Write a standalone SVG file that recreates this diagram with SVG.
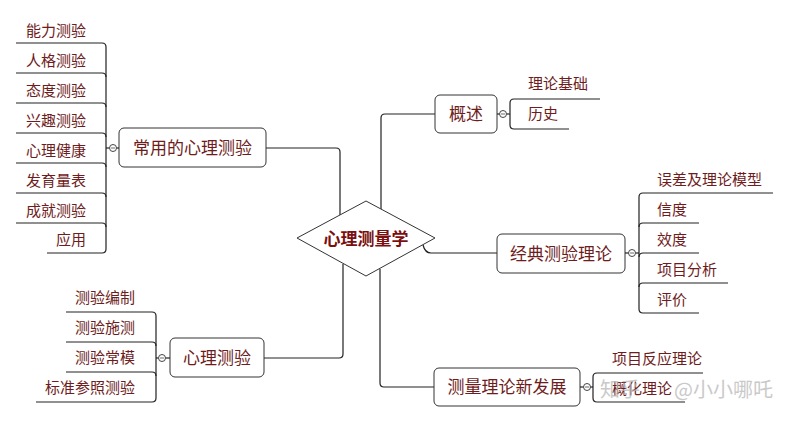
<svg xmlns="http://www.w3.org/2000/svg" width="790" height="423" viewBox="0 0 790 423">
<style>
text{font-family:"Noto Sans CJK SC","Noto Sans",sans-serif;fill:#6e1c1c;dominant-baseline:central}
.leaf{font-size:15px}
.node{font-size:17px;text-anchor:middle}
.box{fill:#fff;stroke:#333;stroke-width:1}
.ln{fill:none;stroke:#222;stroke-width:1.2}
.c{fill:#fff;stroke:#444;stroke-width:1}
.end{text-anchor:end}
</style>
<rect width="790" height="423" fill="#fff"/>
<g id="connectors">
<path class="ln" d="M266,148 H336 Q340,148 340,152 V216"/>
<path class="ln" d="M381,210 V118 Q381,114 385,114 H435"/>
<path class="ln" d="M423,245 Q425,253 431,253 H497"/>
<path class="ln" d="M264,358 H339 Q343,358 343,354 V264"/>
<path class="ln" d="M380,269 V383 Q380,387 384,387 H434"/>
</g>
<g id="root">
<polygon points="297,238 366,201 435,238 366,276" fill="#fff" stroke="#333" stroke-width="1"/>
<text x="366" y="237.5" style="font-size:17px;font-weight:bold;text-anchor:middle;fill:#7a0f0f">心理测量学</text>
</g>
<g id="node-common">
<rect class="box" x="119" y="128" width="147" height="39" rx="5"/>
<text class="node" x="192.5" y="146.5">常用的心理测验</text>
<line class="ln" x1="106" y1="148" x2="109.5" y2="148"/><line class="ln" x1="116.5" y1="148" x2="119" y2="148"/>
<circle class="c" cx="113" cy="148" r="3.5"/><line x1="111" y1="148" x2="115" y2="148" stroke="#444" stroke-width="0.8"/>
<path class="ln" d="M16,43 H102 Q106,43 106,47 V249 Q106,253 102,253 H47"/>
<path class="ln" d="M16,73 H102 Q106,73 106,77"/>
<path class="ln" d="M16,103 H102 Q106,103 106,107"/>
<path class="ln" d="M16,133 H102 Q106,133 106,137"/>
<path class="ln" d="M16,163 H102 Q106,163 106,167"/>
<path class="ln" d="M16,193 H102 Q106,193 106,197"/>
<path class="ln" d="M16,223 H102 Q106,223 106,227"/>
<text class="leaf end" x="86" y="29.5">能力测验</text>
<text class="leaf end" x="86" y="59.5">人格测验</text>
<text class="leaf end" x="86" y="89.5">态度测验</text>
<text class="leaf end" x="86" y="119.5">兴趣测验</text>
<text class="leaf end" x="86" y="149.5">心理健康</text>
<text class="leaf end" x="86" y="179.5">发育量表</text>
<text class="leaf end" x="86" y="209.5">成就测验</text>
<text class="leaf end" x="86" y="238.5">应用</text>
</g>
<g id="node-overview">
<rect class="box" x="435" y="95" width="62" height="38" rx="5"/>
<text class="node" x="466" y="112.5">概述</text>
<line class="ln" x1="497" y1="114" x2="499.5" y2="114"/><line class="ln" x1="506.5" y1="114" x2="510" y2="114"/>
<circle class="c" cx="503" cy="114" r="3.5"/><line x1="501" y1="114" x2="505" y2="114" stroke="#444" stroke-width="0.8"/>
<path class="ln" d="M600,99 H514 Q510,99 510,103 V125 Q510,129 514,129 H569"/>
<text class="leaf" x="528" y="82.5">理论基础</text>
<text class="leaf" x="528" y="112.5">历史</text>
</g>
<g id="node-classic">
<rect class="box" x="497" y="234" width="128" height="39" rx="5"/>
<text class="node" x="561" y="252">经典测验理论</text>
<line class="ln" x1="625" y1="253" x2="628.5" y2="253"/><line class="ln" x1="635.5" y1="253" x2="639" y2="253"/>
<circle class="c" cx="632" cy="253" r="3.5"/><line x1="630" y1="253" x2="634" y2="253" stroke="#444" stroke-width="0.8"/>
<path class="ln" d="M773,193 H643 Q639,193 639,197 V309 Q639,313 643,313 H699"/>
<path class="ln" d="M699,223 H643 Q639,223 639,227"/>
<path class="ln" d="M699,253 H643 Q639,253 639,257"/>
<path class="ln" d="M728,283 H643 Q639,283 639,287"/>
<text class="leaf" x="657" y="178.5">误差及理论模型</text>
<text class="leaf" x="657" y="208.5">信度</text>
<text class="leaf" x="657" y="238.5">效度</text>
<text class="leaf" x="657" y="268.5">项目分析</text>
<text class="leaf" x="657" y="298.5">评价</text>
</g>
<g id="node-test">
<rect class="box" x="170" y="338" width="94" height="39" rx="5"/>
<text class="node" x="217" y="356">心理测验</text>
<line class="ln" x1="156" y1="358" x2="158.5" y2="358"/><line class="ln" x1="165.5" y1="358" x2="170" y2="358"/>
<circle class="c" cx="162" cy="358" r="3.5"/><line x1="160" y1="358" x2="164" y2="358" stroke="#444" stroke-width="0.8"/>
<path class="ln" d="M66,312 H152 Q156,312 156,316 V398 Q156,402 152,402 H36"/>
<path class="ln" d="M66,342 H152 Q156,342 156,346"/>
<path class="ln" d="M66,372 H152 Q156,372 156,376"/>
<text class="leaf end" x="135" y="296.5">测验编制</text>
<text class="leaf end" x="135" y="326.5">测验施测</text>
<text class="leaf end" x="135" y="356.5">测验常模</text>
<text class="leaf end" x="135" y="386.5">标准参照测验</text>
</g>
<g id="node-new">
<rect class="box" x="434" y="368" width="146" height="38" rx="5"/>
<text class="node" x="507" y="385.5">测量理论新发展</text>
<line class="ln" x1="580" y1="387" x2="583.5" y2="387"/><line class="ln" x1="590.5" y1="387" x2="593" y2="387"/>
<circle class="c" cx="587" cy="387" r="3.5"/><line x1="585" y1="387" x2="589" y2="387" stroke="#444" stroke-width="0.8"/>
<path class="ln" d="M703,373 H597 Q593,373 593,377 V398 Q593,402 597,402 H685"/>
<text class="leaf" x="612" y="357.5">项目反应理论</text>
<text class="leaf" x="612" y="387.5">概化理论</text>
</g>
<g id="watermark" opacity="0.75">
<text x="600" y="388" style="font-size:20px;fill:#b8b8b8">知乎</text>
<text x="674" y="388" style="font-size:20px;fill:#b8b8b8">@小小哪吒</text>
</g>
</svg>
